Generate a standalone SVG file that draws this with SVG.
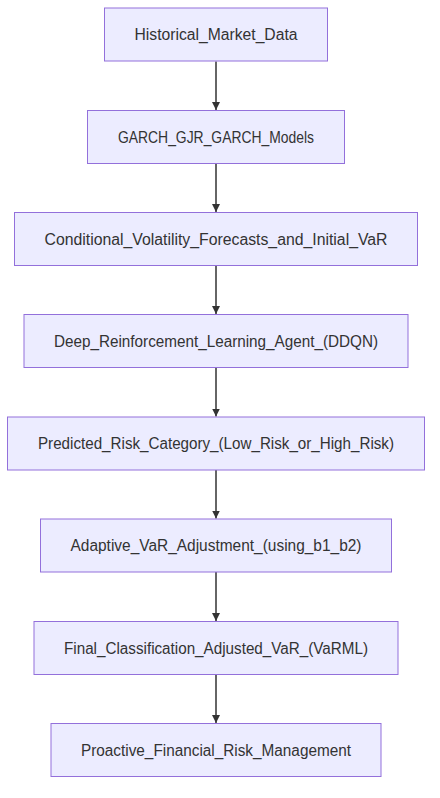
<svg xmlns="http://www.w3.org/2000/svg" width="440" height="798" viewBox="0 0 440 798">
<style>
.node rect{fill:#ECECFF;stroke:#9370DB;stroke-width:1}
.node text{font-family:"Liberation Sans",Arial,sans-serif;font-size:16px;fill:#333333;text-anchor:middle;dominant-baseline:central}
.edge{stroke:#333333;stroke-width:1.5;fill:none}
</style>
<defs>
<marker id="arrow" viewBox="0 0 10 10" refX="10" refY="5" markerWidth="8" markerHeight="8" markerUnits="userSpaceOnUse" orient="auto">
<path d="M0,0 L10,5 L0,10 z" fill="#333333"/>
</marker>
</defs>
<g id="connectors">
<line class="edge" x1="216" y1="61.5" x2="216" y2="110" marker-end="url(#arrow)"/>
<line class="edge" x1="216" y1="163.5" x2="216" y2="212" marker-end="url(#arrow)"/>
<line class="edge" x1="216" y1="265.5" x2="216" y2="314" marker-end="url(#arrow)"/>
<line class="edge" x1="216" y1="367.5" x2="216" y2="416.5" marker-end="url(#arrow)"/>
<line class="edge" x1="216" y1="470" x2="216" y2="518.5" marker-end="url(#arrow)"/>
<line class="edge" x1="216" y1="572" x2="216" y2="621" marker-end="url(#arrow)"/>
<line class="edge" x1="216" y1="674.5" x2="216" y2="723" marker-end="url(#arrow)"/>
</g>
<g id="n1" class="node"><rect x="104.5" y="8" width="223" height="53"/><text x="216" y="34.5" textLength="163" lengthAdjust="spacingAndGlyphs">Historical_Market_Data</text></g>
<g id="n2" class="node"><rect x="87.5" y="110.5" width="257" height="53"/><text x="216" y="137" textLength="196" lengthAdjust="spacingAndGlyphs">GARCH_GJR_GARCH_Models</text></g>
<g id="n3" class="node"><rect x="14.5" y="212.5" width="403" height="53"/><text x="216" y="239" textLength="343" lengthAdjust="spacingAndGlyphs">Conditional_Volatility_Forecasts_and_Initial_VaR</text></g>
<g id="n4" class="node"><rect x="24" y="314.5" width="384" height="53"/><text x="216" y="341" textLength="324" lengthAdjust="spacingAndGlyphs">Deep_Reinforcement_Learning_Agent_(DDQN)</text></g>
<g id="n5" class="node"><rect x="7.5" y="417" width="417" height="53"/><text x="216" y="443.5" textLength="356" lengthAdjust="spacingAndGlyphs">Predicted_Risk_Category_(Low_Risk_or_High_Risk)</text></g>
<g id="n6" class="node"><rect x="40.5" y="519" width="351" height="53"/><text x="216" y="545.5" textLength="291" lengthAdjust="spacingAndGlyphs">Adaptive_VaR_Adjustment_(using_b1_b2)</text></g>
<g id="n7" class="node"><rect x="34" y="621.5" width="364" height="53"/><text x="216" y="648" textLength="304" lengthAdjust="spacingAndGlyphs">Final_Classification_Adjusted_VaR_(VaRML)</text></g>
<g id="n8" class="node"><rect x="51" y="723.5" width="330" height="53"/><text x="216" y="750" textLength="270" lengthAdjust="spacingAndGlyphs">Proactive_Financial_Risk_Management</text></g>
</svg>
